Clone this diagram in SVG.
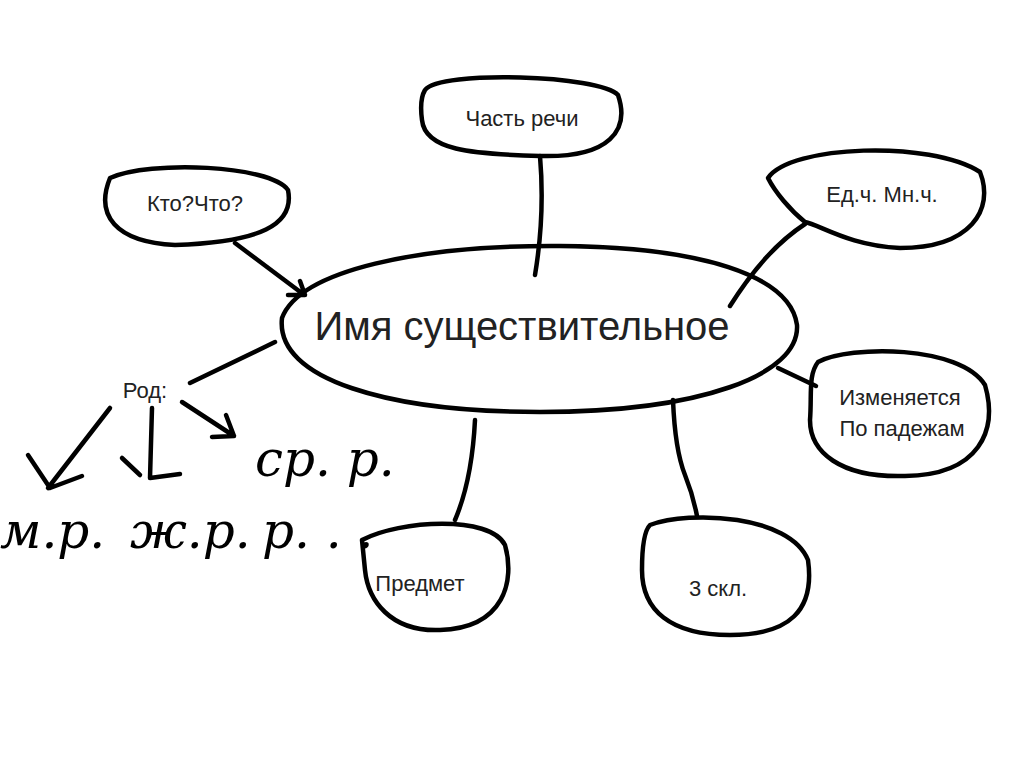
<svg xmlns="http://www.w3.org/2000/svg" width="1024" height="768" viewBox="0 0 1024 768">
<style>
.s{fill:none;stroke:#000;stroke-width:4.5;stroke-linecap:round;stroke-linejoin:round}
.t{font-family:"Liberation Sans",Arial,sans-serif;font-size:22px;fill:#222;text-anchor:middle}
.h{font-family:"DejaVu Serif","Liberation Serif",serif;font-style:italic;font-size:50px;fill:#000}
</style>
<rect width="1024" height="768" fill="#fff"/>
<g id="connectors" class="s">
<path d="M540,156 Q545,215 535,275"/>
<path d="M235,243 L303,294 M288,295 L305,295 L300,281"/>
<path d="M805,224 Q765,250 730,306"/>
<path d="M778,368 L816,386"/>
<path d="M475,420 Q472,480 455,520"/>
<path d="M673,400 Q675,450 685,475 Q693,495 697,516"/>
<path d="M275,342 L190,383"/>
<path d="M110,408 L48,488 M28,455 L50,488 L82,476"/>
<path d="M152,408 L150,478 L180,474 M122,458 L140,475"/>
<path d="M182,402 L234,436 M212,437 L234,436 L226,415"/>
</g>
<g id="center"><path class="s" d="M282,318 C300,270 420,245 560,246 C700,247 790,275 797,325 C800,375 700,412 540,412 C390,412 275,380 282,318 Z"/><text class="t" x="522" y="340" style="font-size:40px">Имя существительное</text></g>
<g id="n1"><path class="s" d="M425,90 C440,70 600,75 618,95 C630,130 610,158 540,156 C470,154 425,150 422,120 C420,105 422,95 425,90 Z"/><text class="t" x="522" y="126">Часть речи</text></g>
<g id="n2"><path class="s" d="M110,178 C150,160 270,165 288,190 C295,225 260,242 175,245 C115,242 95,215 110,178 Z"/><text class="t" x="195" y="211">Кто?Что?</text></g>
<g id="n3"><path class="s" d="M768,178 C790,145 930,140 980,172 C995,210 970,248 900,248 C850,246 820,225 805,222 C790,210 775,192 768,178 Z"/><text class="t" x="882" y="202">Ед.ч. Мн.ч.</text></g>
<g id="n4"><path class="s" d="M818,362 C850,345 960,345 985,385 C998,430 980,475 905,476 C840,478 810,452 810,420 C812,395 808,375 818,362 Z"/><text class="t" x="900" y="405">Изменяется</text><text class="t" x="902" y="436">По падежам</text></g>
<g id="n5"><path class="s" d="M362,540 C400,520 490,515 505,545 C515,580 505,628 440,630 C390,632 368,600 365,570 Z"/><text class="t" x="420" y="591">Предмет</text></g>
<g id="n6"><path class="s" d="M650,525 C690,510 790,515 808,560 C815,610 790,635 730,635 C670,635 642,610 642,570 C642,545 645,530 650,525 Z"/><text class="t" x="718" y="596">3 скл.</text></g>
<g id="rod"><text class="t" x="145" y="398">Род:</text>
<text class="h" x="255" y="476">ср. р.</text>
<text class="h" x="0" y="548">м.р.</text>
<text class="h" x="130" y="548">ж.р.</text>
<text class="h" x="262" y="548">р. . .</text></g>
</svg>
